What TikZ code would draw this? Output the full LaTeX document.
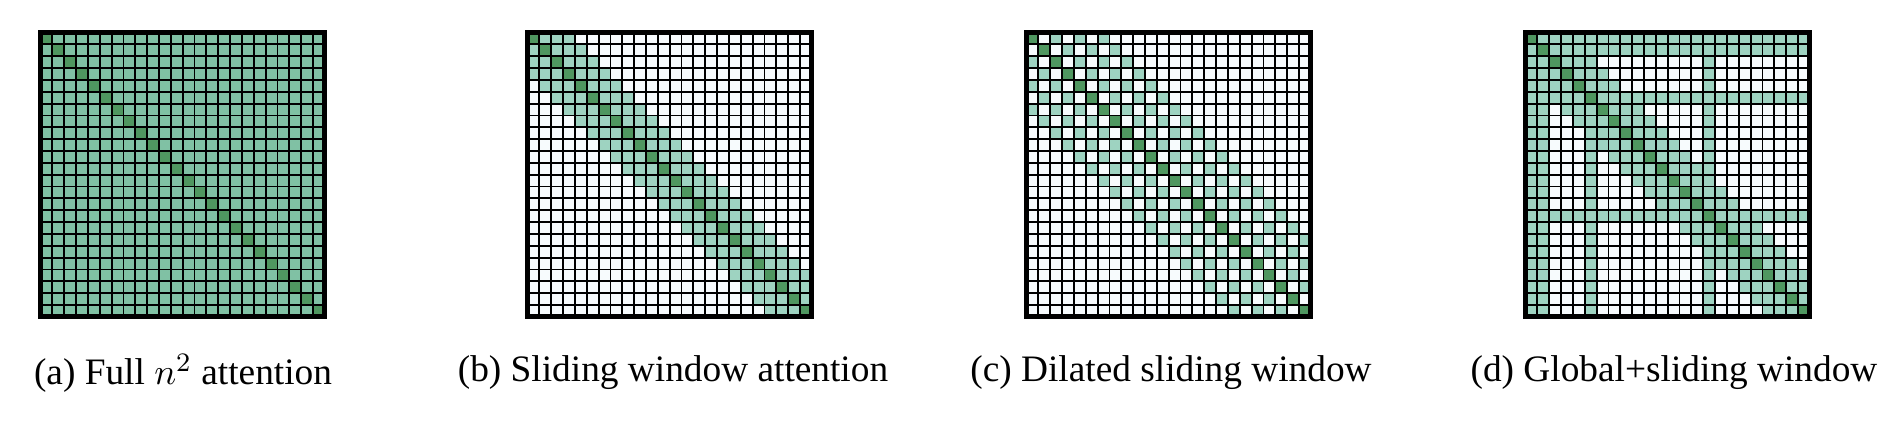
\documentclass[tikz,border=0pt]{standalone}
\usepackage{amsmath}
\usepackage{fontspec}
\setmainfont{Liberation Serif}
\usepackage{tikz}

\definecolor{fullgreen}{RGB}{128,193,164}
\definecolor{windowgreen}{RGB}{158,211,193}
\definecolor{diaggreen}{RGB}{79,151,96}
\definecolor{emptycell}{RGB}{247,251,253}

\tikzset{
  gridline/.style={line width=0.55pt, black},
  panelborder/.style={line width=1.5pt, black},
  caption/.style={font=\fontsize{11.2}{13}\selectfont, inner sep=0pt}
}

% cell lines and the thick frame of one 24x24 panel
\newcommand{\cellgrid}{%
    \foreach \k in {1,...,23} {
        \draw[gridline] (\k,0) -- (\k,24);
        \draw[gridline] (0,\k) -- (24,\k);
    }
    \draw[panelborder] (0,0) rectangle (24,24);
}

\begin{document}
\begin{tikzpicture}[x=0.3pt, y=-0.3pt]
    \useasboundingbox (0,0) rectangle (1890,432);

    % (a) full attention: every cell filled
    \begin{scope}[shift={(40.5,32.5)}, x=3.555pt, y=-3.555pt]
        \fill[fullgreen] (0,0) rectangle (24,24);
        \foreach \i in {0,...,23}
            \fill[diaggreen] (\i,\i) rectangle ++(1,1);
        \cellgrid
    \end{scope}

    % (b) sliding window of width 3 on each side
    \begin{scope}[shift={(527.5,32.5)}, x=3.555pt, y=-3.555pt]
        \fill[emptycell] (0,0) rectangle (24,24);
        \foreach \i in {0,...,23}
            \foreach \j in {0,...,23} {
                \pgfmathtruncatemacro\d{abs(\i-\j)}
                \ifnum\d<4 \fill[windowgreen] (\j,\i) rectangle ++(1,1); \fi
            }
        \foreach \i in {0,...,23}
            \fill[diaggreen] (\i,\i) rectangle ++(1,1);
        \cellgrid
    \end{scope}

    % (c) dilated window: only even offsets
    \begin{scope}[shift={(1026.5,32.5)}, x=3.555pt, y=-3.555pt]
        \fill[emptycell] (0,0) rectangle (24,24);
        \foreach \i in {0,...,23}
            \foreach \j in {0,...,23} {
                \pgfmathtruncatemacro\d{abs(\i-\j)}
                \pgfmathtruncatemacro\m{mod(\d,2)}
                \ifnum\d<7 \ifnum\m=0 \fill[windowgreen] (\j,\i) rectangle ++(1,1); \fi \fi
            }
        \foreach \i in {0,...,23}
            \fill[diaggreen] (\i,\i) rectangle ++(1,1);
        \cellgrid
    \end{scope}

    % (d) global rows and columns plus sliding window
    \begin{scope}[shift={(1525.5,32.5)}, x=3.555pt, y=-3.555pt]
        \fill[emptycell] (0,0) rectangle (24,24);
        \foreach \i in {0,...,23}
            \foreach \j in {0,...,23} {
                \pgfmathtruncatemacro\d{abs(\i-\j)}
                \ifnum\d<4 \fill[windowgreen] (\j,\i) rectangle ++(1,1); \fi
            }
        \foreach \g in {0,1,5,15} {
            \fill[windowgreen] (\g,0) rectangle ++(1,24);
            \fill[windowgreen] (0,\g) rectangle ++(24,1);
        }
        \foreach \i in {0,...,23}
            \fill[diaggreen] (\i,\i) rectangle ++(1,1);
        \cellgrid
    \end{scope}

    % Captions under the panels
    \node[caption] (capfull) at (183,373) {(a) Full $n^2$ attention};
    \node[caption] (capslide) at (673,373) {(b) Sliding window attention};
    \node[caption] (capdilate) at (1171,373) {(c) Dilated sliding window};
    \node[caption] (capglobal) at (1674,373) {(d) Global+sliding window};
\end{tikzpicture}
\end{document}
